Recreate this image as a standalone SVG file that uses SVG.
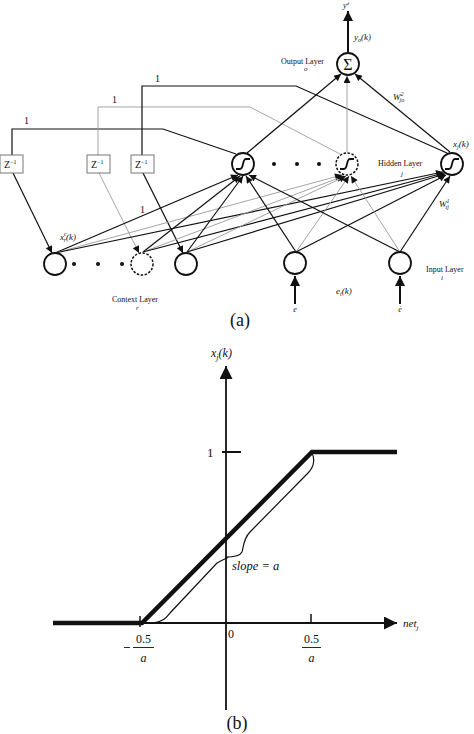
<svg xmlns="http://www.w3.org/2000/svg" width="474" height="734" viewBox="0 0 474 734">
<style>
text{font-family:'Liberation Serif','DejaVu Serif',serif;fill:#111}
.i{font-style:italic}
.ln{stroke:#111;stroke-width:1.2;fill:none}
.gl{stroke:#9a9a9a;stroke-width:0.9;fill:none}
.node{fill:#fff;stroke:#111;stroke-width:1.8}
.dnode{fill:#fff;stroke:#111;stroke-width:1.5;stroke-dasharray:2.5 1.5}
.sig{fill:none;stroke:#111;stroke-width:1.8}
.box{fill:#fff;stroke:#777;stroke-width:1}
.dot{fill:#111}
</style>
<defs>
<marker id="ah" viewBox="0 0 10 10" refX="10" refY="5" markerWidth="9" markerHeight="7" markerUnits="userSpaceOnUse" orient="auto"><path d="M0,0 L10,5 L0,10 z" fill="#111"/></marker>
<marker id="big" viewBox="0 0 10 10" refX="10" refY="5" markerWidth="11" markerHeight="10" markerUnits="userSpaceOnUse" orient="auto"><path d="M0,0 L10,5 L0,10 z" fill="#111"/></marker>
<marker id="ax" viewBox="0 0 10 10" refX="10" refY="5" markerWidth="13" markerHeight="13" markerUnits="userSpaceOnUse" orient="auto"><path d="M0,0 L10,5 L0,10 z" fill="#111"/></marker>
</defs>

<g id="connectors">
<polyline class="ln" points="236,154 163,129 12,129 12,155"/>
<polyline class="gl" points="340,154 250,107 98,107 98,155"/>
<polyline class="ln" points="447,153 296,86 142,86 142,155"/>
<line class="ln" x1="247" y1="153" x2="341" y2="74" marker-end="url(#ah)"/>
<line class="gl" x1="347" y1="152" x2="347" y2="76" marker-end="url(#ah)"/>
<line class="ln" x1="450" y1="152" x2="355" y2="74" marker-end="url(#ah)"/>
<line x1="348" y1="52" x2="348" y2="11" stroke="#111" stroke-width="2" marker-end="url(#big)"/>
<line class="ln" x1="13" y1="173" x2="52" y2="253" marker-end="url(#ah)"/>
<line class="gl" x1="99" y1="173" x2="139" y2="253" marker-end="url(#ah)"/>
<line class="ln" x1="143" y1="173" x2="183" y2="253" marker-end="url(#ah)"/>
<line class="ln" x1="55" y1="253" x2="238" y2="175" marker-end="url(#ah)"/>
<line class="gl" x1="55" y1="253" x2="342" y2="175" marker-end="url(#ah)"/>
<line class="ln" x1="55" y1="253" x2="443" y2="172" marker-end="url(#ah)"/>
<line class="ln" x1="143" y1="252" x2="240" y2="176" marker-end="url(#ah)"/>
<line class="gl" x1="143" y1="252" x2="344" y2="176" marker-end="url(#ah)"/>
<line class="ln" x1="143" y1="252" x2="444" y2="173" marker-end="url(#ah)"/>
<line class="ln" x1="187" y1="252" x2="243" y2="176" marker-end="url(#ah)"/>
<line class="gl" x1="187" y1="252" x2="346" y2="176" marker-end="url(#ah)"/>
<line class="ln" x1="187" y1="252" x2="445" y2="174" marker-end="url(#ah)"/>
<line class="ln" x1="296" y1="252" x2="246" y2="176" marker-end="url(#ah)"/>
<line class="gl" x1="296" y1="252" x2="349" y2="176" marker-end="url(#ah)"/>
<line class="ln" x1="296" y1="252" x2="446" y2="175" marker-end="url(#ah)"/>
<line class="ln" x1="400" y1="252" x2="249" y2="175" marker-end="url(#ah)"/>
<line class="gl" x1="400" y1="252" x2="351" y2="176" marker-end="url(#ah)"/>
<line class="ln" x1="400" y1="252" x2="450" y2="176" marker-end="url(#ah)"/>
<line x1="295" y1="304" x2="295" y2="276" stroke="#111" stroke-width="2" marker-end="url(#big)"/>
<line x1="400" y1="304" x2="400" y2="276" stroke="#111" stroke-width="2" marker-end="url(#big)"/>
</g>

<g id="output">
<circle class="node" cx="348" cy="64" r="11"/>
<text x="348" y="70" font-size="16" text-anchor="middle">Σ</text>
</g>
<g id="hidden1">
<circle class="node" cx="243" cy="164" r="11"/>
<path class="sig" d="M236,169 L240,169 C244,169 242,159 246,159 L250,159"/>
</g>
<g id="hidden2">
<circle class="dnode" cx="347" cy="164" r="11"/>
<path class="sig" d="M340,169 L344,169 C348,169 346,159 350,159 L354,159"/>
</g>
<g id="hidden3">
<circle class="node" cx="452" cy="164" r="11"/>
<path class="sig" d="M445,169 L449,169 C453,169 451,159 455,159 L459,159"/>
</g>
<g id="hdots">
<circle class="dot" cx="274" cy="164" r="2"/>
<circle class="dot" cx="297" cy="164" r="2"/>
<circle class="dot" cx="319" cy="164" r="2"/>
</g>
<g id="z1"><rect class="box" x="0" y="155" width="23" height="18"/><text x="4" y="168" font-size="10">Z<tspan font-size="6" dy="-4">−1</tspan></text></g>
<g id="z2"><rect class="box" x="87" y="155" width="23" height="18"/><text x="91" y="168" font-size="10">Z<tspan font-size="6" dy="-4">−1</tspan></text></g>
<g id="z3"><rect class="box" x="131" y="155" width="23" height="18"/><text x="135" y="168" font-size="10">Z<tspan font-size="6" dy="-4">−1</tspan></text></g>
<g id="context1"><circle class="node" cx="55" cy="264" r="11"/></g>
<g id="cdots">
<circle class="dot" cx="74" cy="264" r="2"/>
<circle class="dot" cx="98" cy="264" r="2"/>
<circle class="dot" cx="122" cy="264" r="2"/>
</g>
<g id="context2"><circle class="dnode" cx="142" cy="264" r="11"/></g>
<g id="context3"><circle class="node" cx="186" cy="264" r="11"/></g>
<g id="input1"><circle class="node" cx="295" cy="263" r="11"/></g>
<g id="input2"><circle class="node" cx="400" cy="263" r="11"/></g>

<g id="labels-a">
<text class="i" x="346" y="8" font-size="8" text-anchor="middle">y<tspan font-size="5" dy="-3">d</tspan></text>
<text class="i" x="354" y="40" font-size="9">y<tspan font-size="6" dy="2">o</tspan><tspan dy="-2">(k)</tspan></text>
<text x="281" y="64" font-size="8">Output Layer</text>
<text class="i" x="304" y="71" font-size="7">o</text>
<text class="i" x="393" y="100" font-size="9">W<tspan font-size="6" dy="-4">2</tspan><tspan font-size="6" dy="6" dx="-4">jo</tspan></text>
<text x="24" y="124" font-size="10">1</text>
<text x="112" y="103" font-size="10">1</text>
<text x="155" y="82" font-size="10">1</text>
<text class="i" x="453" y="147" font-size="9">x<tspan font-size="6" dy="2">j</tspan><tspan dy="-2">(k)</tspan></text>
<text x="378" y="166" font-size="8">Hidden Layer</text>
<text class="i" x="401" y="176" font-size="7">j</text>
<text x="140" y="213" font-size="10">1</text>
<text class="i" x="439" y="207" font-size="9">W<tspan font-size="6" dy="-4">1</tspan><tspan font-size="6" dy="6" dx="-4">ij</tspan></text>
<text class="i" x="60" y="240" font-size="9">x<tspan font-size="6" dy="-4">c</tspan><tspan font-size="6" dy="6" dx="-3">r</tspan><tspan dy="-2">(k)</tspan></text>
<text x="426" y="272" font-size="8">Input Layer</text>
<text class="i" x="441" y="280" font-size="7">i</text>
<text class="i" x="336" y="294" font-size="9">e<tspan font-size="6" dy="2">i</tspan><tspan dy="-2">(k)</tspan></text>
<text x="112" y="302" font-size="8">Context Layer</text>
<text class="i" x="136" y="310" font-size="7">r</text>
<text class="i" x="295" y="312" font-size="8" text-anchor="middle">e</text>
<text class="i" x="400" y="312" font-size="8" text-anchor="middle">ė</text>
<text x="240" y="326" font-size="18" text-anchor="middle">(a)</text>
</g>

<g id="plot-b">
<line x1="226" y1="710" x2="226" y2="366" stroke="#111" stroke-width="1.8" marker-end="url(#ax)"/>
<line x1="53" y1="623" x2="397" y2="623" stroke="#111" stroke-width="1.8" marker-end="url(#ax)"/>
<polyline points="53,623 142,623 312,452 397,452" fill="none" stroke="#111" stroke-width="4.5" stroke-linejoin="miter"/>
<line x1="222" y1="452" x2="241" y2="452" stroke="#111" stroke-width="2"/>
<line x1="140" y1="616" x2="140" y2="627" stroke="#111" stroke-width="1.5"/>
<line x1="311" y1="614" x2="311" y2="623" stroke="#111" stroke-width="1.5"/>
<path d="M311,452 C315,457 315,466 308,473 L250,532 C243,539 243,550 242,552 C240,556 232,557 226,557 C232,557 225,558 217,563 L170,613 C166,618 163,622 153,623" fill="none" stroke="#111" stroke-width="1.2"/>
<text class="i" x="232" y="570" font-size="12.5">slope = a</text>
<text class="i" x="211" y="357" font-size="12">x<tspan font-size="8" dy="3">j</tspan><tspan dy="-3">(k)</tspan></text>
<text class="i" x="403" y="627" font-size="11">net<tspan font-size="7" dy="3">j</tspan></text>
<text x="207" y="457" font-size="13">1</text>
<text x="228" y="638" font-size="12">0</text>
<text x="143.5" y="643" font-size="12" text-anchor="middle">0.5</text>
<line x1="133" y1="647.5" x2="154" y2="647.5" stroke="#111" stroke-width="0.9"/>
<line x1="124" y1="647.5" x2="130" y2="647.5" stroke="#111" stroke-width="0.9"/>
<text class="i" x="143.5" y="662" font-size="12" text-anchor="middle">a</text>
<text x="311.5" y="643" font-size="12" text-anchor="middle">0.5</text>
<line x1="302" y1="647.5" x2="321" y2="647.5" stroke="#111" stroke-width="0.9"/>
<text class="i" x="311.5" y="662" font-size="12" text-anchor="middle">a</text>
<text x="237" y="729" font-size="18" text-anchor="middle">(b)</text>
</g>
</svg>
